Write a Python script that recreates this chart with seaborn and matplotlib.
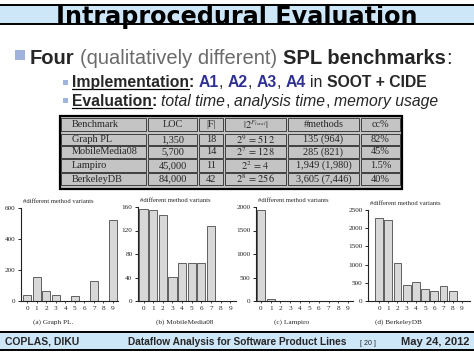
import matplotlib
matplotlib.use('Agg')
import numpy as np
import pandas as pd
import matplotlib.pyplot as plt
import seaborn as sns
from matplotlib.patches import Rectangle

# ---- data ----
variants = ['0', '1', '2', '3', '4', '5', '6', '7', '8', '9']
graph_pl = [38, 156, 63, 38, 0, 32, 0, 129, 0, 520]
mobile_media = [157, 155, 147, 41, 64, 64, 64, 128, 0, 0]
lampiro = [1930, 50, 0, 0, 0, 0, 0, 0, 0, 0]
berkeley_db = [2270, 2225, 1053, 440, 513, 330, 275, 412, 275, 0]

panel_names = ['(a) Graph PL.', '(b) MobileMedia08', '(c) Lampiro', '(d) BerkeleyDB']
panel_yticks = [[0, 200, 400, 600], [0, 40, 80, 120, 160],
                [0, 500, 1000, 1500, 2000], [0, 500, 1000, 1500, 2000, 2500]]

tbl_header = ['Benchmark', 'LOC', '|F|', r'$|2^{F_{local}}|$', '#methods', 'cc%']
bench_names = ['Graph PL', 'MobileMedia08', 'Lampiro', 'BerkeleyDB']
bench_loc = ['1,350', '5,700', '45,000', '84,000']
bench_features = ['18', '14', '11', '42']
local_exp = ['9', '7', '2', '8']
local_configs = ['512', '128', '4', '256']
bench_methods = ['135 (964)', '285 (821)', '1,949 (1,980)', '3,605 (7,446)']
bench_cc = ['82%', '45%', '1.5%', '40%']

W, H = 474, 355
BAND = '#cde6f8'
BLUE = '#2e3191'

sns.set_style('ticks')
plt.rcParams['font.family'] = ['Liberation Sans', 'DejaVu Sans']
plt.rcParams['mathtext.fontset'] = 'stix'

fig = plt.figure(figsize=(W / 100, H / 100), dpi=100)
bg = fig.add_axes([0, 0, 1, 1])
bg.set_xlim(0, W); bg.set_ylim(H, 0); bg.axis('off')
renderer = fig.canvas.get_renderer()


def rich(x, y, parts, size):
    # parts: (text, kwargs, underline); ' ' means a plain space gap
    for txt, kw, ul in parts:
        if txt == ' ':
            x += 0.278 * size * 100 / 72
            continue
        t = bg.text(x, y, txt, fontsize=size, va='baseline', ha='left', **kw)
        w = t.get_window_extent(renderer).width
        if ul:
            bg.plot([x, x + w], [y + 2, y + 2], color=kw.get('color', 'black'), lw=0.9)
        x += w
    return x


# title band
bg.add_patch(Rectangle((0, 5), W, 19, fc=BAND, ec='none'))
bg.plot([0, W], [5, 5], color='black', lw=1.4)
bg.plot([0, W], [24, 24], color='black', lw=1.4)
bg.text(W / 2, 24, 'Intraprocedural Evaluation', fontsize=17.2, fontweight='bold',
        family='DejaVu Sans', ha='center', va='baseline', color='black')

# bullets
B = dict(fontweight='bold')
N = dict()
bg.add_patch(Rectangle((15, 50), 10, 10, fc='#9fb3dd', ec='none'))
rich(30, 64, [('Four', B, False), (' ', N, False),
              ('(qualitatively different)', dict(color='#6a6a6a'), False), (' ', N, False),
              ('SPL benchmarks', B, False), (':', N, False)], 14.5)

bg.add_patch(Rectangle((63, 80), 5, 5, fc='#9fb3dd', ec='none'))
A = dict(fontweight='bold', color=BLUE)
rich(72, 87, [('Implementation', B, True), (':', B, False), (' ', N, False),
              ('A1', A, False), (',', N, False), (' ', N, False),
              ('A2', A, False), (',', N, False), (' ', N, False),
              ('A3', A, False), (',', N, False), (' ', N, False),
              ('A4', A, False), (' ', N, False), ('in', N, False), (' ', N, False),
              ('SOOT + CIDE', B, False)], 11.3)

bg.add_patch(Rectangle((63, 98), 5, 5, fc='#9fb3dd', ec='none'))
I = dict(style='italic')
rich(72, 106, [('Evaluation', B, True), (':', B, False), (' ', N, False),
               ('total time', I, False), (',', N, False), (' ', N, False),
               ('analysis time', I, False), (',', N, False), (' ', N, False),
               ('memory usage', I, False)], 11.3)

# table
col_x = [60, 147, 198, 224, 287, 360, 401]
row_y = [117, 131, 133, 145, 158, 172, 185]
bg.add_patch(Rectangle((60, 116), 342, 73, fc='#c4c4c4', ec='black', lw=1.6))
rows = [tbl_header] + [
    [bench_names[i], bench_loc[i], bench_features[i],
     r'$2^{%s}\,=\,%s$' % (local_exp[i], local_configs[i]), bench_methods[i], bench_cc[i]]
    for i in range(len(bench_names))]
row_bounds = [(117, 131)] + [(row_y[k], row_y[k + 1]) for k in range(2, 6)]
for r, (y0, y1) in enumerate(row_bounds):
    for c in range(6):
        x0, x1 = col_x[c], col_x[c + 1]
        bg.add_patch(Rectangle((x0 + 1, y0 + 0.5), x1 - x0 - 2, y1 - y0 - 1,
                               fc='none', ec='#2a2a2a', lw=0.6))
        ha = 'left' if c == 0 else 'center'
        tx = x0 + 12 if c == 0 else (x0 + x1) / 2
        bg.text(tx, (y0 + y1) / 2 + 0.5, rows[r][c], fontsize=7.4, family='Liberation Serif',
                ha=ha, va='center')

# bar panels
panels = [graph_pl, mobile_media, lampiro, berkeley_db]
geom = [  # x0, x1, ytop, ybot, tick0, spacing
    (21, 118, 208, 301, 27, 9.56),
    (138, 236, 207, 301, 143.5, 9.65),
    (256, 353, 207, 301, 261, 9.67),
    (368, 470, 210, 301, 379, 9.22),
]
caption_x = [53, 185, 292, 398]
for vals, (x0, x1, yt, yb, t0, s), yt_list, name, cx in zip(panels, geom, panel_yticks,
                                                           panel_names, caption_x):
    ax = fig.add_axes([x0 / W, 1 - yb / H, (x1 - x0) / W, (yb - yt) / H])
    ax.patch.set_alpha(0)
    sns.barplot(x=variants, y=vals, ax=ax, color='#d8d8d8', edgecolor='#4a4a4a',
                linewidth=0.6, width=0.84, saturation=1)
    ax.set_xlim((x0 - t0) / s, (x1 - t0) / s)
    ax.set_ylim(0, yt_list[-1])
    ax.set_yticks(yt_list)
    ax.set_xlabel(''); ax.set_ylabel('')
    sns.despine(ax=ax)
    for sp in ('left', 'bottom'):
        ax.spines[sp].set_linewidth(0.8)
        ax.spines[sp].set_color('#222222')
    ax.tick_params(axis='y', length=2.5, width=0.7, pad=1.5, labelsize=5.2)
    ax.tick_params(axis='x', length=1.5, width=0.6, pad=1.8, labelsize=5.2)
    for lab in ax.get_xticklabels() + ax.get_yticklabels():
        lab.set_family('Liberation Serif')
    ax.annotate('#different method variants', xy=(0, 1), xycoords='axes fraction',
                xytext=(2, 4), textcoords='offset pixels', fontsize=4.8,
                family='Liberation Serif', ha='left', va='bottom')
    bg.text(cx, 322, name, fontsize=5.2, family='Liberation Serif', ha='center', va='center')

# footer band
bg.add_patch(Rectangle((0, 332), W, 18, fc=BAND, ec='none'))
bg.plot([0, W], [332, 332], color='black', lw=1.4)
bg.plot([0, W], [350, 350], color='black', lw=1.4)
bg.text(5, 345, 'COPLAS, DIKU', fontsize=7.5, fontweight='bold', va='baseline')
bg.text(237, 345, 'Dataflow Analysis for Software Product Lines', fontsize=7.3,
        fontweight='bold', ha='center', va='baseline')
bg.text(368, 345, '[ 20 ]', fontsize=5, ha='center', va='baseline')
bg.text(470, 345, 'May 24, 2012', fontsize=8, fontweight='bold', ha='right', va='baseline')

fig.savefig('out.png', dpi=100)
